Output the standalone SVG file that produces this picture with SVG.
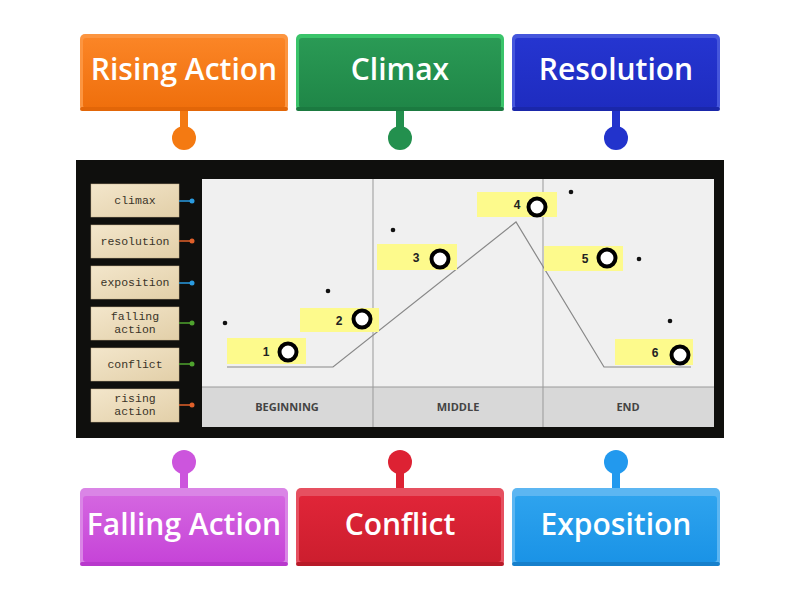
<svg xmlns="http://www.w3.org/2000/svg" width="800" height="600" viewBox="0 0 800 600">
<defs>
<style>
.tile-t{font-family:"Open Sans","Noto Sans",sans-serif;font-weight:600;font-size:30px;fill:#fff;text-anchor:middle}
.tag{fill:url(#paper);stroke:#c9b58e;stroke-width:0.5}
.tag-t{font-family:"Liberation Mono","DejaVu Sans Mono",monospace;font-size:11.5px;fill:#3a3428;text-anchor:middle}
.yb{fill:#fdfa8c}
.num{font-family:"Liberation Sans",Arial,sans-serif;font-weight:bold;font-size:12px;fill:#222;text-anchor:middle}
.ring{fill:#fff;stroke:#000;stroke-width:4}
.dot{fill:#111}
.band-t{font-family:"Open Sans","Liberation Sans",sans-serif;font-weight:bold;font-size:11px;fill:#444;text-anchor:middle}
</style>
<linearGradient id="paper" x1="0" y1="0" x2="1" y2="1">
<stop offset="0" stop-color="#f3e6cb"/><stop offset="1" stop-color="#e2cfa8"/>
</linearGradient>
<linearGradient id="gO" x1="0" y1="0" x2="0" y2="1"><stop offset="0" stop-color="#fb8526"/><stop offset="1" stop-color="#ef6f0c"/></linearGradient>
<linearGradient id="gG" x1="0" y1="0" x2="0" y2="1"><stop offset="0" stop-color="#2a9a55"/><stop offset="1" stop-color="#1f8647"/></linearGradient>
<linearGradient id="gB" x1="0" y1="0" x2="0" y2="1"><stop offset="0" stop-color="#2535d0"/><stop offset="1" stop-color="#1e2cc0"/></linearGradient>
<linearGradient id="gP" x1="0" y1="0" x2="0" y2="1"><stop offset="0" stop-color="#d466e0"/><stop offset="1" stop-color="#c644d8"/></linearGradient>
<linearGradient id="gR" x1="0" y1="0" x2="0" y2="1"><stop offset="0" stop-color="#e02538"/><stop offset="1" stop-color="#cc1e2e"/></linearGradient>
<linearGradient id="gC" x1="0" y1="0" x2="0" y2="1"><stop offset="0" stop-color="#2ea3ee"/><stop offset="1" stop-color="#1a93e6"/></linearGradient>
</defs>
<rect width="800" height="600" fill="#fff"/>

<!-- top tiles -->
<g id="tile-rising-action">
<rect x="180" y="108" width="8" height="22" fill="#f47a12"/>
<circle cx="184" cy="138" r="12" fill="#f47a12"/>
<rect x="80" y="34" width="208" height="77" rx="5" fill="#fc9540"/>
<rect x="83" y="38" width="202" height="70" rx="3" fill="url(#gO)"/>
<rect x="80" y="107" width="208" height="4" rx="2" fill="#e26608"/>
<text class="tile-t" x="184" y="80">Rising Action</text>
</g>
<g id="tile-climax">
<rect x="396" y="108" width="8" height="22" fill="#23904e"/>
<circle cx="400" cy="138" r="12" fill="#23904e"/>
<rect x="296" y="34" width="208" height="77" rx="5" fill="#3ac46a"/>
<rect x="299" y="38" width="202" height="70" rx="3" fill="url(#gG)"/>
<rect x="296" y="107" width="208" height="4" rx="2" fill="#1b7a40"/>
<text class="tile-t" x="400" y="80">Climax</text>
</g>
<g id="tile-resolution">
<rect x="612" y="108" width="8" height="22" fill="#2233cc"/>
<circle cx="616" cy="138" r="12" fill="#2233cc"/>
<rect x="512" y="34" width="208" height="77" rx="5" fill="#4556dc"/>
<rect x="515" y="38" width="202" height="70" rx="3" fill="url(#gB)"/>
<rect x="512" y="107" width="208" height="4" rx="2" fill="#1a27aa"/>
<text class="tile-t" x="616" y="80">Resolution</text>
</g>

<!-- image -->
<g id="plot-image">
<rect x="76" y="160" width="648" height="278" fill="#0f0f0d"/>
<rect x="202" y="179" width="512" height="248" fill="#f0f0f0"/>
<rect x="202" y="387" width="512" height="40" fill="#d8d8d8"/>
<line x1="202" y1="387" x2="714" y2="387" stroke="#9a9a9a" stroke-width="1"/>
<line x1="373" y1="179" x2="373" y2="427" stroke="#999" stroke-width="1"/>
<line x1="543" y1="179" x2="543" y2="427" stroke="#999" stroke-width="1"/>
<text class="band-t" x="287" y="411">BEGINNING</text>
<text class="band-t" x="458" y="411">MIDDLE</text>
<text class="band-t" x="628" y="411">END</text>
<polyline points="227,367 333,367 516,222 604,367 691,367" fill="none" stroke="#888" stroke-width="1.2"/>
</g>

<g id="tag-climax"><rect class="tag" x="91" y="184" width="88" height="33"/><text class="tag-t" x="135" y="204">climax</text>
<line x1="179" y1="201" x2="192" y2="201" stroke="#2a9be0" stroke-width="1.5"/><circle cx="192" cy="201" r="2.5" fill="#2a9be0"/></g>
<g id="tag-resolution"><rect class="tag" x="91" y="225" width="88" height="33"/><text class="tag-t" x="135" y="245">resolution</text>
<line x1="179" y1="241" x2="192" y2="241" stroke="#e0602a" stroke-width="1.5"/><circle cx="192" cy="241" r="2.5" fill="#e0602a"/></g>
<g id="tag-exposition"><rect class="tag" x="91" y="266" width="88" height="33"/><text class="tag-t" x="135" y="286">exposition</text>
<line x1="179" y1="283" x2="192" y2="283" stroke="#2a9be0" stroke-width="1.5"/><circle cx="192" cy="283" r="2.5" fill="#2a9be0"/></g>
<g id="tag-falling-action"><rect class="tag" x="91" y="307" width="88" height="33"/><text class="tag-t" x="135" y="320">falling</text><text class="tag-t" x="135" y="333">action</text>
<line x1="179" y1="323" x2="192" y2="323" stroke="#4fa32e" stroke-width="1.5"/><circle cx="192" cy="323" r="2.5" fill="#4fa32e"/></g>
<g id="tag-conflict"><rect class="tag" x="91" y="348" width="88" height="33"/><text class="tag-t" x="135" y="368">conflict</text>
<line x1="179" y1="364" x2="192" y2="364" stroke="#4fa32e" stroke-width="1.5"/><circle cx="192" cy="364" r="2.5" fill="#4fa32e"/></g>
<g id="tag-rising-action"><rect class="tag" x="91" y="389" width="88" height="33"/><text class="tag-t" x="135" y="402">rising</text><text class="tag-t" x="135" y="415">action</text>
<line x1="179" y1="405" x2="192" y2="405" stroke="#e0602a" stroke-width="1.5"/><circle cx="192" cy="405" r="2.5" fill="#e0602a"/></g>

<g id="marker-1"><rect class="yb" x="227" y="338" width="79" height="26"/><text class="num" x="266" y="356">1</text><circle class="ring" cx="288" cy="352" r="8.5"/></g>
<g id="marker-2"><rect class="yb" x="300" y="308" width="79" height="24"/><text class="num" x="339" y="325">2</text><circle class="ring" cx="362" cy="319" r="8.5"/></g>
<g id="marker-3"><rect class="yb" x="377" y="244" width="80" height="26"/><text class="num" x="416" y="262">3</text><circle class="ring" cx="440" cy="259" r="8.5"/></g>
<g id="marker-4"><rect class="yb" x="477" y="192" width="80" height="25"/><text class="num" x="517" y="209">4</text><circle class="ring" cx="537" cy="207" r="8.5"/></g>
<g id="marker-5"><rect class="yb" x="544" y="246" width="79" height="25"/><text class="num" x="585" y="263">5</text><circle class="ring" cx="607" cy="258" r="8.5"/></g>
<g id="marker-6"><rect class="yb" x="615" y="339" width="78" height="26"/><text class="num" x="655" y="357">6</text><circle class="ring" cx="680" cy="355" r="8.5"/></g>

<g id="dots">
<circle class="dot" cx="225" cy="323" r="2.3"/>
<circle class="dot" cx="328" cy="291" r="2.3"/>
<circle class="dot" cx="393" cy="230" r="2.3"/>
<circle class="dot" cx="571" cy="192" r="2.3"/>
<circle class="dot" cx="639" cy="259" r="2.3"/>
<circle class="dot" cx="670" cy="321" r="2.3"/>
</g>

<!-- bottom tiles -->
<g id="tile-falling-action">
<circle cx="184" cy="462" r="12" fill="#cc55dd"/>
<rect x="180" y="468" width="8" height="22" fill="#cc55dd"/>
<rect x="80" y="488" width="208" height="78" rx="5" fill="#da85e6"/>
<rect x="83" y="496" width="202" height="66" rx="3" fill="url(#gP)"/>
<rect x="80" y="562" width="208" height="4" rx="2" fill="#b838cc"/>
<text class="tile-t" x="184" y="535">Falling Action</text>
</g>
<g id="tile-conflict">
<circle cx="400" cy="462" r="12" fill="#dd2233"/>
<rect x="396" y="468" width="8" height="22" fill="#dd2233"/>
<rect x="296" y="488" width="208" height="78" rx="5" fill="#e65060"/>
<rect x="299" y="496" width="202" height="66" rx="3" fill="url(#gR)"/>
<rect x="296" y="562" width="208" height="4" rx="2" fill="#b81a28"/>
<text class="tile-t" x="400" y="535">Conflict</text>
</g>
<g id="tile-exposition">
<circle cx="616" cy="462" r="12" fill="#2299ee"/>
<rect x="612" y="468" width="8" height="22" fill="#2299ee"/>
<rect x="512" y="488" width="208" height="78" rx="5" fill="#5cb6f2"/>
<rect x="515" y="496" width="202" height="66" rx="3" fill="url(#gC)"/>
<rect x="512" y="562" width="208" height="4" rx="2" fill="#1680cc"/>
<text class="tile-t" x="616" y="535">Exposition</text>
</g>
</svg>
